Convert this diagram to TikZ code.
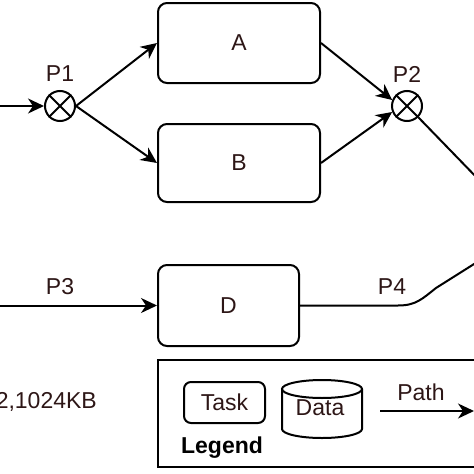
\documentclass[tikz,border=0pt]{standalone}
\usepackage{fontspec}
\setmainfont{Liberation Sans}
\usetikzlibrary{arrows.meta}
\definecolor{txt}{RGB}{45,22,22}
\tikzset{
  every node/.style={font=\fontsize{23}{27}\selectfont, text=txt},
  task/.style={draw=black, line width=2pt, rounded corners=9pt, inner sep=0pt},
  gate/.style={draw=black, circle, line width=2pt, minimum size=30pt, inner sep=0pt},
  conn/.style={line width=2pt, draw=black},
  arr/.style={conn, -{Stealth[length=16pt,width=15pt,inset=5pt]}},
  lbl/.style={inner sep=0pt}
}
\begin{document}
\begin{tikzpicture}[x=1pt,y=-1pt]
\useasboundingbox (0,0) rectangle (474,474);
\begin{scope}
\clip (0,0) rectangle (474,474);
% tasks
\node[task, minimum width=162pt, minimum height=80pt] (a) at (239,43) {A};
\node[task, minimum width=162pt, minimum height=78pt] (b) at (239,163) {B};
\node[task, minimum width=141pt, minimum height=81pt] (d) at (228.5,305.5) {D};
% gates
\node[gate] (p1) at (60,106) {};
\draw[conn] (p1.north west) -- (p1.south east) (p1.north east) -- (p1.south west);
\node[gate] (p2) at (407,106) {};
\draw[conn] (p2.north west) -- (p2.south east) (p2.north east) -- (p2.south west);
\node[lbl] (lp1) at (60,74) {P1};
\node[lbl] (lp2) at (407,74) {P2};
% connectors
\coordinate (in1) at (-5,106);
\draw[arr] (in1) -- (p1.west);
\draw[arr] (p1.east) -- (a.west);
\draw[arr] (p1.east) -- (b.west);
\draw[arr] (a.east) -- (p2.158);
\draw[arr] (b.east) -- (p2.202);
\coordinate (out2) at (482,183);
\draw[conn] (p2.south east) -- (out2);
\coordinate (in3) at (-5,305.5);
\draw[arr] (in3) -- (d.west);
\node[lbl] (lp3) at (60,287) {P3};
\coordinate (out4) at (482,259);
\draw[conn] (d.east) -- (398,305.5) .. controls (416,305.5) and (422,299) .. (436,288) -- (out4);
\node[lbl] (lp4) at (392,287) {P4};
% size text
\node[lbl, anchor=east] (sz) at (97,402) {2,1024KB};
% legend
\draw[conn] (158,360) rectangle (500,467);
\node[task, minimum width=81pt, minimum height=41pt, rounded corners=7pt] (lt) at (224.5,402.5) {Task};
\draw[conn] (282,389) -- (282,429) arc[start angle=180,end angle=360,x radius=40,y radius=-9] -- (362,389);
\draw[conn] (322,389) ellipse[x radius=40,y radius=9];
\node[lbl] (ld) at (320,408) {Data};
\coordinate (ps) at (380,411);
\coordinate (pe) at (474,411);
\draw[arr] (ps) -- (pe);
\node[lbl] (lpath) at (421,392) {Path};
\node[lbl, font=\fontsize{23}{27}\selectfont\bfseries, text=black] (leg) at (222,448) {Legend};
\end{scope}
\end{tikzpicture}
\end{document}
